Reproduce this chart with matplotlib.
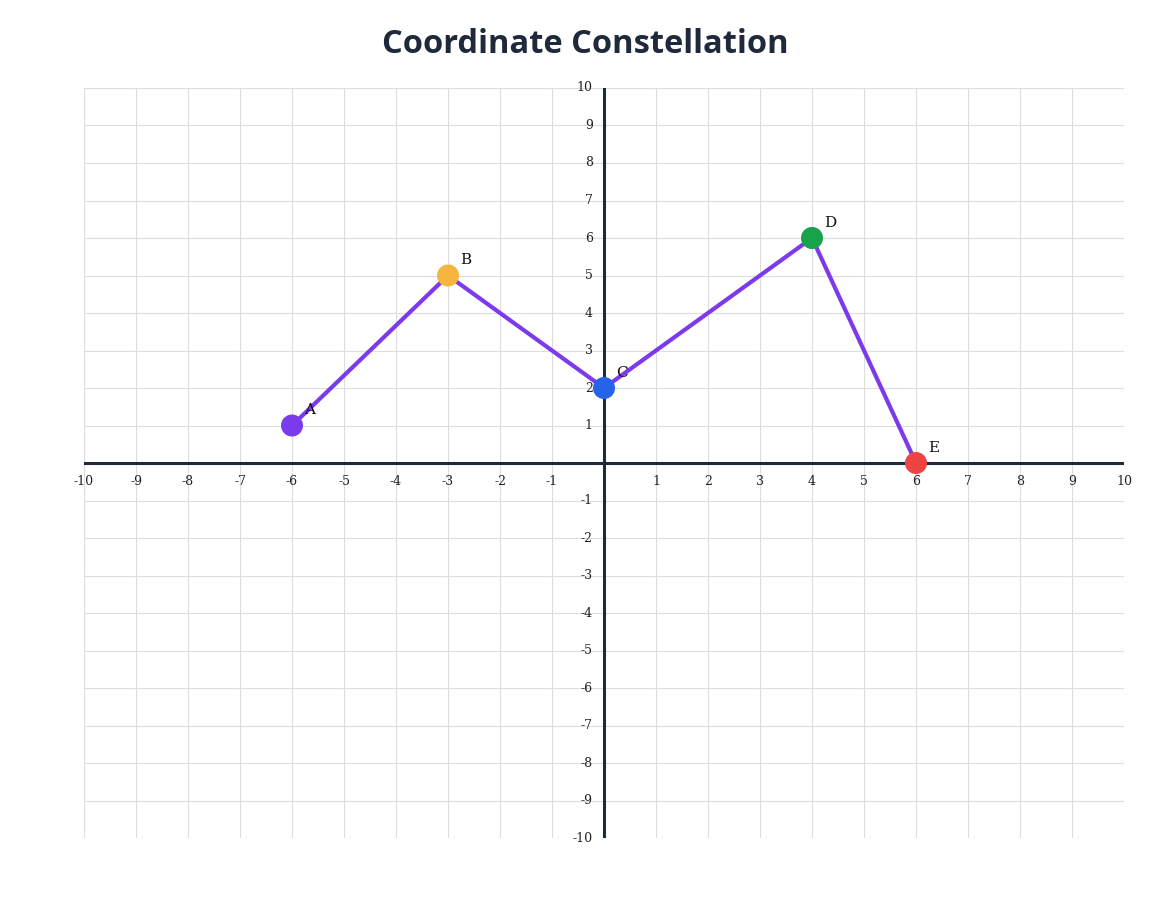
import matplotlib
matplotlib.use("Agg")
import matplotlib.pyplot as plt

labels = ["A", "B", "C", "D", "E"]
xs = [-6, -3, 0, 4, 6]
ys = [1, 5, 2, 6, 0]
colors = ["#7c3aed", "#f5b53f", "#2563eb", "#16a34a", "#ef4444"]
ticks = list(range(-10, 11))

fig = plt.figure(figsize=(11.7, 9.1), dpi=100)
ax = fig.add_axes([0.0718, 0.0791, 0.8889, 0.8242])
ax.set_xlim(-10, 10)
ax.set_ylim(-10, 10)
for t in ticks:
    ax.axvline(t, color="#dddddd", lw=0.8, zorder=0)
    ax.axhline(t, color="#dddddd", lw=0.8, zorder=0)
for s in ax.spines.values():
    s.set_visible(False)
ax.set_xticks([]); ax.set_yticks([])
ax.axhline(0, color="#1f2937", lw=2.2, zorder=1)
ax.axvline(0, color="#1f2937", lw=2.2, zorder=1)

for t in ticks:
    if t == 0:
        continue
    ax.annotate(str(t), (t, 0), xytext=(0, -13), textcoords="offset points",
                ha="center", va="center", fontsize=9, family="DejaVu Serif", color="#222")
    ax.annotate(str(t), (0, t), xytext=(-8, 0), textcoords="offset points",
                ha="right", va="center", fontsize=9, family="DejaVu Serif", color="#222")

ax.plot(xs, ys, color="#7c3aed", lw=3, zorder=2)
ax.scatter(xs, ys, c=colors, s=220, zorder=3)
for l, x, y in zip(labels, xs, ys):
    ax.annotate(l, (x, y), xytext=(9, 8), textcoords="offset points",
                fontsize=11, family="DejaVu Serif", color="#111")

fig.text(0.5, 0.951, "Coordinate Constellation", ha="center", va="center",
         fontsize=23.5, fontweight="bold", family="Open Sans", color="#1e293b")
fig.savefig("out.png", dpi=100)
